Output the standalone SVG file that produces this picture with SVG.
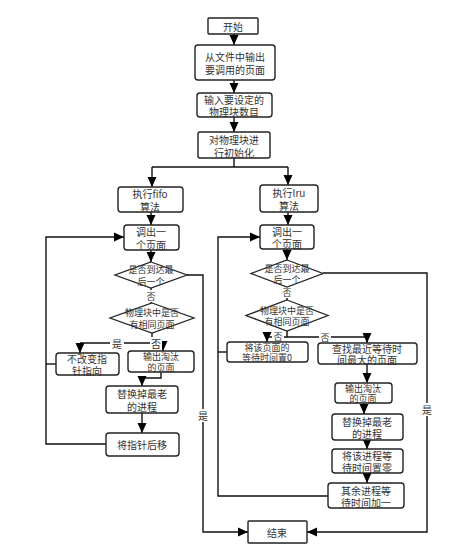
<svg xmlns="http://www.w3.org/2000/svg" width="459" height="552" viewBox="0 0 459 552">
<defs>
<marker id="ah" markerUnits="userSpaceOnUse" markerWidth="10" markerHeight="10" viewBox="0 0 10 10" refX="10" refY="5" orient="auto">
<path d="M0,0.5 L10,5 L0,9.5 Z" fill="#000"/>
</marker>
<style>
.b{fill:#fff;stroke:#222;stroke-width:1.4}
.d{fill:#fff;stroke:#222;stroke-width:1.3}
.c{fill:none;stroke:#111;stroke-width:1.4}
.a{fill:none;stroke:#111;stroke-width:1.4;marker-end:url(#ah)}
text{font-family:"Noto Sans CJK SC","Liberation Sans",sans-serif;font-size:10px;fill:#333;text-anchor:middle;dominant-baseline:central}
.s{font-size:9px}
</style>
</defs>
<rect width="459" height="552" fill="#fff"/>
<g id="connectors">
<path class="a" d="M234,34 V45"/>
<path class="a" d="M234,80 V93"/>
<path class="a" d="M234,117 V132"/>
<path class="c" d="M234,158 V167 M152,167 H288"/>
<path class="a" d="M152,167 V187"/>
<path class="a" d="M288,167 V185"/>
<path class="a" d="M151,212 V225"/>
<path class="a" d="M151,250 V262"/>
<path class="c" d="M151,288 V303"/>
<path class="c" d="M152,333 V343 M80,343 H163"/>
<path class="a" d="M80,343 V353"/>
<path class="a" d="M163,343 V351"/>
<path class="c" d="M161,372 V378 H142"/>
<path class="a" d="M142,378 V386"/>
<path class="a" d="M142,413 V433"/>
<path class="a" d="M106,444 H46 V237 H124"/>
<path class="c" d="M56,364 H46"/>
<path class="a" d="M187,275 H203 V532 H248"/>
<path class="a" d="M288,212 V225"/>
<path class="a" d="M287,249 V260"/>
<path class="c" d="M287,287 V300"/>
<path class="c" d="M287,331 V337 M267,337 H367"/>
<path class="a" d="M267,337 V342"/>
<path class="a" d="M367,337 V343"/>
<path class="a" d="M367,364 V383"/>
<path class="a" d="M364,403 V414"/>
<path class="a" d="M367,440 V449"/>
<path class="a" d="M367,473 V483"/>
<path class="a" d="M328,496 H218 V237 H260"/>
<path class="c" d="M227,352 H218"/>
<path class="a" d="M323,273 H427 V532 H307"/>
<rect x="196" y="409" width="14" height="13" fill="#fff"/>
<text x="203" y="415">是</text>
<rect x="420" y="403" width="14" height="13" fill="#fff"/>
<text x="427" y="409">是</text>
<rect x="144" y="290" width="14" height="12" fill="#fff"/>
<text class="s" x="151" y="296">否</text>
<rect x="280" y="287" width="14" height="11" fill="#fff"/>
<text class="s" x="287" y="292">否</text>
<rect x="110" y="337" width="14" height="13" fill="#fff"/>
<text x="117" y="343">是</text>
<rect x="150" y="337" width="12" height="13" fill="#fff"/>
<text x="156" y="343">否</text>
<rect x="272" y="332" width="12" height="10" fill="#fff"/>
<text class="s" x="278" y="336">否</text>
<rect x="319" y="332" width="12" height="10" fill="#fff"/>
<text class="s" x="325" y="337">否</text>
</g>
<g id="start"><rect class="b" x="208" y="18" width="50" height="16" rx="1"/><text x="233" y="26">开始</text></g>
<g id="read"><rect class="b" x="195" y="45" width="80" height="35" rx="3"/><text x="235" y="56">从文件中输出</text><text x="235" y="69">要调用的页面</text></g>
<g id="input"><rect class="b" x="197" y="93" width="75" height="24" rx="3"/><text x="234" y="99">输入要设定的</text><text x="234" y="111">物理块数目</text></g>
<g id="init"><rect class="b" x="198" y="132" width="72" height="26" rx="2"/><text x="234" y="139">对物理块进</text><text x="234" y="152">行初始化</text></g>
<g id="fifo"><rect class="b" x="118" y="187" width="65" height="25" rx="3"/><text x="150" y="193">执行fifo</text><text x="150" y="206">算法</text></g>
<g id="fifo-next"><rect class="b" x="124" y="225" width="55" height="25" rx="3"/><text x="151" y="231">调出一</text><text x="151" y="244">个页面</text></g>
<g id="fifo-last"><polygon class="d" points="151,262 187,275 151,288 115,275"/><text class="s" x="151" y="269">是否到达最</text><text class="s" x="151" y="281">后一个</text></g>
<g id="fifo-same"><polygon class="d" points="152,303 194,318 152,333 110,318"/><text class="s" x="152" y="312">物理块中是否</text><text class="s" x="152" y="324">有相同页面</text></g>
<g id="fifo-keep"><rect class="b" x="56" y="353" width="63" height="22" rx="3"/><text x="87" y="358">不改变指</text><text x="87" y="370">针指向</text></g>
<g id="fifo-out"><rect class="b" x="128" y="351" width="66" height="21" rx="3"/><text class="s" x="161" y="356">输出淘汰</text><text class="s" x="161" y="367">的页面</text></g>
<g id="fifo-replace"><rect class="b" x="106" y="386" width="72" height="27" rx="3"/><text x="142" y="393">替换掉最老</text><text x="142" y="406">的进程</text></g>
<g id="fifo-move"><rect class="b" x="106" y="433" width="73" height="23" rx="3"/><text x="142" y="444">将指针后移</text></g>
<g id="lru"><rect class="b" x="260" y="185" width="58" height="27" rx="3"/><text x="289" y="192">执行lru</text><text x="289" y="205">算法</text></g>
<g id="lru-next"><rect class="b" x="260" y="225" width="54" height="24" rx="3"/><text x="287" y="231">调出一</text><text x="287" y="243">个页面</text></g>
<g id="lru-last"><polygon class="d" points="287,260 323,273.5 287,287 251,273.5"/><text class="s" x="287" y="268">是否到达最</text><text class="s" x="287" y="279">后一个</text></g>
<g id="lru-same"><polygon class="d" points="287,300 328,315.5 287,331 246,315.5"/><text class="s" x="287" y="310">物理块中是否</text><text class="s" x="287" y="321">有相同页面</text></g>
<g id="lru-reset"><rect class="b" x="227" y="342" width="81" height="20" rx="3"/><text class="s" x="267" y="347">将该页面的</text><text class="s" x="267" y="357">等待时间置0</text></g>
<g id="lru-find"><rect class="b" x="318" y="343" width="99" height="21" rx="3"/><text x="367" y="348">查找最近等待时</text><text x="367" y="359">间最大的页面</text></g>
<g id="lru-out"><rect class="b" x="335" y="383" width="57" height="20" rx="3"/><text class="s" x="363" y="388">输出淘汰</text><text class="s" x="363" y="398">的页面</text></g>
<g id="lru-replace"><rect class="b" x="332" y="414" width="71" height="26" rx="3"/><text x="367" y="421">替换掉最老</text><text x="367" y="433">的进程</text></g>
<g id="lru-zero"><rect class="b" x="332" y="449" width="71" height="24" rx="3"/><text x="367" y="455">将该进程等</text><text x="367" y="467">待时间置零</text></g>
<g id="lru-inc"><rect class="b" x="328" y="483" width="76" height="25" rx="3"/><text x="366" y="490">其余进程等</text><text x="366" y="502">待时间加一</text></g>
<g id="end"><rect class="b" x="248" y="521" width="59" height="22" rx="1"/><text x="277" y="532">结束</text></g>
</svg>
